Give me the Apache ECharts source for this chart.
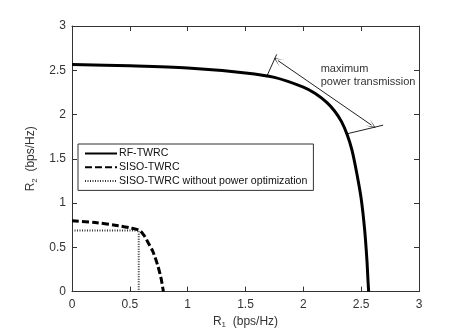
<!DOCTYPE html>
<html><head><meta charset="utf-8">
<script src="https://cdn.jsdelivr.net/npm/echarts@6/dist/echarts.min.js"></script>
<style>html,body{margin:0;padding:0;background:#fff}#c{width:474px;height:334px}</style>
</head><body><div id="c"></div>
<script>
// Data
const rfR1 = [0, 0.5, 1.0, 1.5, 1.75, 2.0, 2.1, 2.2, 2.27, 2.33, 2.38, 2.42, 2.46, 2.5, 2.53, 2.55, 2.56, 2.565];
const rfR2 = [2.565, 2.55, 2.525, 2.47, 2.42, 2.31, 2.24, 2.14, 2.04, 1.92, 1.77, 1.6, 1.35, 1.05, 0.7, 0.35, 0.1, 0];
const sisoR1 = [0, 0.2, 0.4, 0.5, 0.585, 0.62, 0.66, 0.7, 0.74, 0.77, 0.79];
const sisoR2 = [0.8, 0.78, 0.745, 0.72, 0.69, 0.64, 0.55, 0.45, 0.3, 0.15, 0];
const noOptR1 = [0, 0.577, 0.577];
const noOptR2 = [0.69, 0.69, 0];
const seriesNames = ['RF-TWRC', 'SISO-TWRC', 'SISO-TWRC without power optimization'];
// annotation (data coords)
const annoTick1 = [[1.68, 2.42], [1.77, 2.68]];
const annoTick2 = [[2.37, 1.78], [2.69, 1.88]];
const annoArrow = [[2.59, 1.88], [1.78, 2.61]];
const annoText = ['maximum', 'power transmission'];
const annoTextPos = [2.15, 2.43];

const zip = (a, b) => a.map((v, i) => [v, b[i]]);
const FONT = 'Liberation Sans';
const axisCol = '#333';
const txtCol = '#333';
const fmt = v => String(v);

function axisBase(extra) {
  return Object.assign({
    type: 'value', min: 0, max: 3, interval: 0.5,
    axisLine: { show: true, onZero: false, lineStyle: { color: axisCol, width: 1 } },
    axisTick: { show: true, inside: true, length: 5, lineStyle: { color: axisCol } },
    splitLine: { show: false },
    axisLabel: { color: txtCol, fontSize: 12, fontFamily: FONT, formatter: fmt }
  }, extra);
}
const nameRich = { r: { fontSize: 12, color: txtCol, fontFamily: FONT }, s: { fontSize: 8, color: txtCol, fontFamily: FONT, padding: [7, 0, 0, 0] } };

const chart = echarts.init(document.getElementById('c'), null, { renderer: 'canvas' });
const option = {
  backgroundColor: '#fff',
  animation: false,
  textStyle: { fontFamily: FONT },
  grid: { left: 72, right: 55, top: 26, bottom: 36 },
  xAxis: [
    axisBase({
      position: 'bottom',
      axisLabel: { color: txtCol, fontSize: 12, fontFamily: FONT, margin: 7, formatter: fmt },
      name: '{r|R}{s|1}{r|  (bps/Hz)}', nameLocation: 'middle', nameGap: 20,
      nameTextStyle: { rich: nameRich }
    }),
    axisBase({ position: 'top', axisLabel: { show: false } })
  ],
  yAxis: [
    axisBase({
      position: 'left',
      axisLabel: { color: txtCol, fontSize: 12, fontFamily: FONT, margin: 6, formatter: fmt },
      name: '{r|R}{s|2}{r|  (bps/Hz)}', nameLocation: 'middle', nameGap: 23, nameRotate: 90,
      nameTextStyle: { rich: nameRich }
    }),
    axisBase({ position: 'right', axisLabel: { show: false } })
  ],
  legend: {
    data: seriesNames,
    orient: 'vertical', left: 78, top: 144,
    itemWidth: 32, itemHeight: 12, itemGap: 2.7,
    padding: [4, 6, 4, 6],
    borderColor: '#333', borderWidth: 1, backgroundColor: '#fff', borderRadius: 0,
    itemStyle: { color: 'transparent', borderWidth: 0, opacity: 0 },
    textStyle: { fontSize: 10.6, color: '#111', fontFamily: FONT, padding: [0, 0, 0, -3] }
  },
  series: [
    {
      name: seriesNames[0], type: 'line', data: zip(rfR1, rfR2), smooth: 0.3,
      showSymbol: false, symbol: 'none',
      lineStyle: { color: '#000', width: 3 }, itemStyle: { color: '#000' }, z: 5
    },
    {
      name: seriesNames[1], type: 'line', data: zip(sisoR1, sisoR2), smooth: 0.3,
      showSymbol: false, symbol: 'none',
      lineStyle: { color: '#000', width: 3, type: [7, 3] }, itemStyle: { color: '#000' }, z: 5
    },
    {
      name: seriesNames[2], type: 'line', data: zip(noOptR1, noOptR2),
      showSymbol: false, symbol: 'none',
      lineStyle: { color: '#333', width: 2, type: [1, 1.5] }, itemStyle: { color: '#333' }, z: 4
    },
    {
      name: 'annoTick1', type: 'line', data: annoTick1, symbol: 'none', silent: true,
      lineStyle: { color: '#222', width: 1 }, z: 3
    },
    {
      name: 'annoTick2', type: 'line', data: annoTick2, symbol: 'none', silent: true,
      lineStyle: { color: '#222', width: 1 }, z: 3,
      markLine: {
        silent: true, symbol: ['path://M0,10 L5,0 L10,10 L5,2 Z', 'path://M0,10 L5,0 L10,10 L5,2 Z'], symbolSize: [8, 10],
        lineStyle: { color: '#222', width: 1, type: 'solid' }, label: { show: false },
        data: [[{ coord: annoArrow[0] }, { coord: annoArrow[1] }]]
      }
    }
  ]
};
chart.setOption(option);
const p = chart.convertToPixel({ xAxisIndex: 0, yAxisIndex: 0 }, annoTextPos);
chart.setOption({
  graphic: [{
    type: 'text', left: p[0], top: p[1] - 14,
    style: { text: annoText.join('\n'), fontSize: 11, lineHeight: 13, fill: '#333', fontFamily: FONT }
  }]
});
</script></body></html>
